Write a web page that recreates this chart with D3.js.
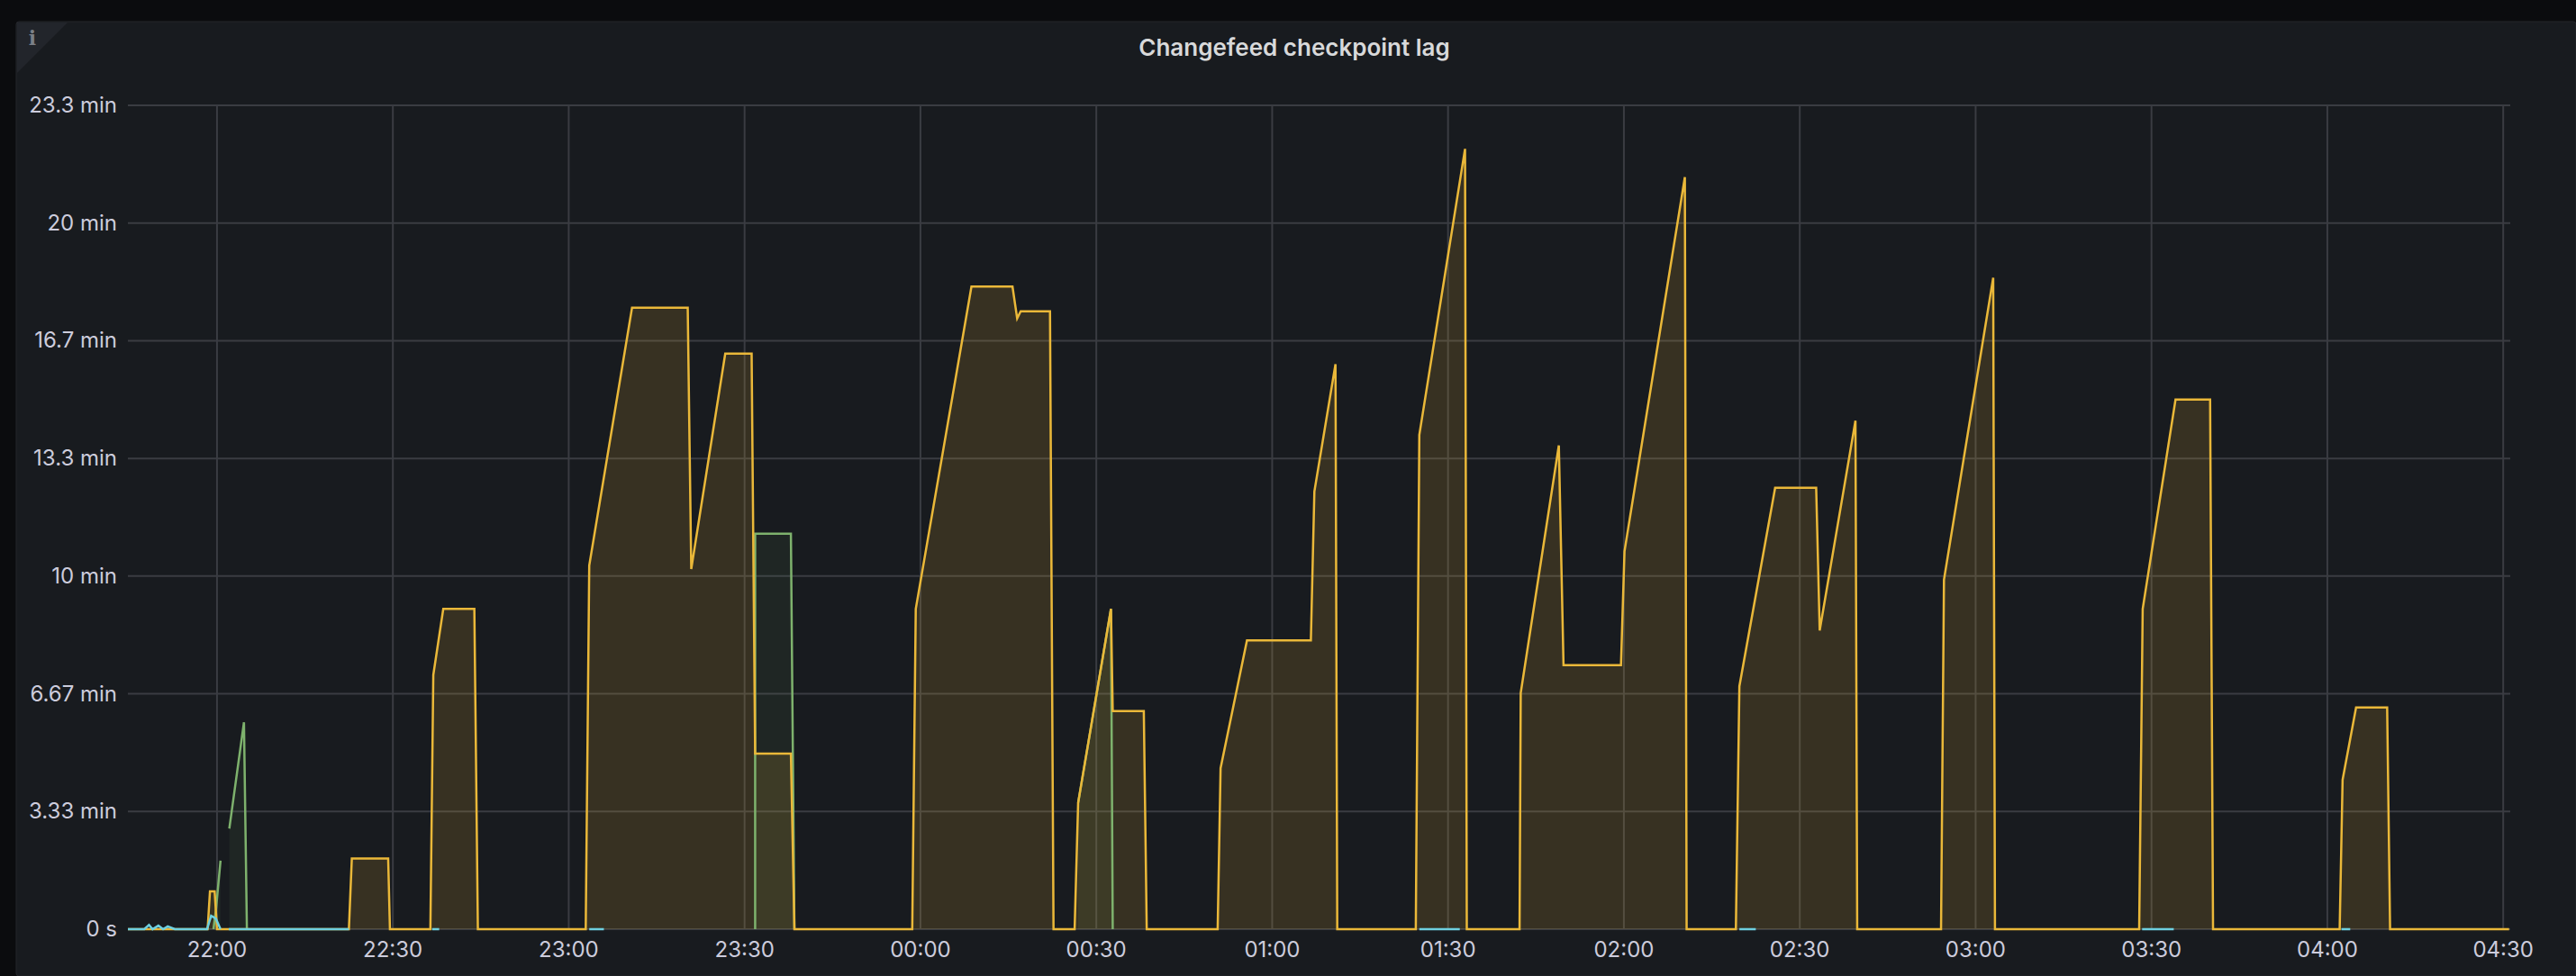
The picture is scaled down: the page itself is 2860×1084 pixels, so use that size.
<!DOCTYPE html>
<html><head><meta charset="utf-8">
<script src="https://cdn.jsdelivr.net/npm/d3@7"></script>
<style>html,body{margin:0;padding:0;background:#0b0c0e;}svg{display:block;font-family:Inter,Roboto,sans-serif;}</style>
</head><body>
<script>
// minutes relative to 22:00, values in minutes
const title = "Changefeed checkpoint lag";
const yTicks = [0, 200, 400, 600, 800, 1000, 1200, 1400]; // seconds
const yTickLabels = ["0 s","3.33 min","6.67 min","10 min","13.3 min","16.7 min","20 min","23.3 min"];
const xTickLabels = ["22:00","22:30","23:00","23:30","00:00","00:30","01:00","01:30","02:00","02:30","03:00","03:30","04:00","04:30"];
const yellowT = [-15.2,-1.6,-1.2,-0.4,0,22.5,23.0,29.2,29.5,36.4,36.9,38.6,43.9,44.5,62.9,63.5,70.8,80.3,80.9,86.7,91.2,91.8,97.9,98.5,118.6,119.2,128.7,135.7,136.5,137.1,142.1,142.7,146.3,146.9,152.5,152.8,158.1,158.6,170.7,171.2,175.7,186.6,187.2,190.8,191.1,204.5,205.1,212.9,213.2,222.2,222.4,228.9,229.7,239.5,240.1,250.4,250.7,259.1,259.7,265.8,272.8,273.4,279.5,279.8,294.1,294.6,303.0,303.3,327.9,328.5,334.1,340.0,340.5,362.1,362.6,364.9,370.2,370.7,391.0];
const yellowV = [0,0,1.07,1.07,0,0,2.0,2.0,0,0,7.2,9.07,9.07,0,0,10.3,17.6,17.6,10.2,16.3,16.3,4.97,4.97,0,0,9.07,18.2,18.2,17.3,17.5,17.5,0,0,3.58,9.07,6.18,6.18,0,0,4.56,8.18,8.18,12.4,16.0,0,0,14.0,22.1,0,0,6.69,13.7,7.48,7.48,10.7,21.3,0,0,6.88,12.5,12.5,8.46,14.4,0,0,9.9,18.45,0,0,9.07,15.0,15.0,0,0,4.23,6.28,6.28,0,0];
const greenT = [-0.6,-0.15,0.6,null,2.1,4.6,5.1,null,91.8,91.8,97.9,98.5,null,146.9,152.5,152.8];
const greenV = [0,0.6,1.94,null,2.85,5.86,0,null,0,11.2,11.2,0,null,3.58,9.07,0];
const cyanT = [-15.2,-12.4,-11.6,-11.0,-10.0,-9.2,-8.4,-7.2,-6.4,-5.6,-1.7,-1.0,-0.2,0.6,null,2.0,22.5,null,36.7,37.9,null,63.5,66.0,null,205.1,212.0,null,259.7,262.5,null,328.4,333.8,null,362.4,363.9];
const cyanV = [0,0,0.12,0,0.1,0,0.08,0,0,0,0,0.38,0.3,0,null,0,0,null,0,0,null,0,0,null,0,0,null,0,0,null,0,0,null,0,0];

const W = 2860, H = 1084;
const svg = d3.select("body").append("svg").attr("width", W).attr("height", H);
svg.append("rect").attr("width", W).attr("height", H).attr("fill", "#0b0c0e");
svg.append("rect").attr("x", 18).attr("y", 24).attr("width", W - 18).attr("height", H - 24).attr("rx", 3)
  .attr("fill", "#181b1f").attr("stroke", "#24262b");
svg.append("path").attr("d", "M19,25 L75,25 L19,81 Z").attr("fill", "#22252b");
svg.append("text").attr("x", 36).attr("y", 50).attr("fill", "#7b7f87").attr("font-size", 22)
  .attr("font-family", "DejaVu Serif").attr("font-weight", "bold").attr("text-anchor", "middle").text("i");
svg.append("text").attr("x", 1437).attr("y", 62).attr("fill", "#d8d9da").attr("font-size", 26)
  .attr("font-weight", 600).attr("text-anchor", "middle").text(title);

const base = Date.UTC(2020, 0, 1, 22, 0);
const toDate = m => new Date(base + m * 60000);
const x = d3.scaleUtc().domain([toDate(-15.2), toDate(391.2)]).range([142, 2787]);
const y = d3.scaleLinear().domain([0, 1400]).range([1032, 117]);

const g = svg.append("g");
g.selectAll(".hg").data(yTicks).join("line").attr("x1", 142).attr("x2", 2787)
  .attr("y1", d => y(d)).attr("y2", d => y(d)).attr("stroke", "#3a3c42").attr("stroke-width", 2);
const xTicks = xTickLabels.map((s, i) => toDate(i * 30));
g.selectAll(".vg").data(xTicks).join("line").attr("x1", d => x(d)).attr("x2", d => x(d))
  .attr("y1", 117).attr("y2", 1032).attr("stroke", "#3a3c42").attr("stroke-width", 2);
g.selectAll(".yl").data(yTicks).join("text").attr("x", 130).attr("y", d => y(d) + 8)
  .attr("text-anchor", "end").attr("fill", "#ccccdc").attr("font-size", 24).text((d, i) => yTickLabels[i]);
g.selectAll(".xl").data(xTicks).join("text").attr("x", d => x(d)).attr("y", 1063)
  .attr("text-anchor", "middle").attr("fill", "#ccccdc").attr("font-size", 24).text((d, i) => xTickLabels[i]);

function pts(T, V) { return T.map((t, i) => ({t, v: V[i]})); }
const def = d => d.t !== null && d.v !== null;
const line = d3.line().defined(def).x(d => x(toDate(d.t))).y(d => y(d.v * 60));
const area = d3.area().defined(def).x(d => x(toDate(d.t))).y0(y(0)).y1(d => y(d.v * 60));

const green = pts(greenT, greenV), yellow = pts(yellowT, yellowV), cyan = pts(cyanT, cyanV);
g.append("path").attr("d", area(green)).attr("fill", "#7EB26D").attr("fill-opacity", 0.07);
g.append("path").attr("d", area(yellow)).attr("fill", "#EAB839").attr("fill-opacity", 0.15);
g.append("path").attr("d", line(green)).attr("fill", "none").attr("stroke", "#7EB26D").attr("stroke-width", 2.5);
g.append("path").attr("d", line(yellow)).attr("fill", "none").attr("stroke", "#EAB839").attr("stroke-width", 2.5);
g.append("path").attr("d", line(cyan)).attr("fill", "none").attr("stroke", "#6ED0E0").attr("stroke-width", 2.5);
</script>
</body></html>
